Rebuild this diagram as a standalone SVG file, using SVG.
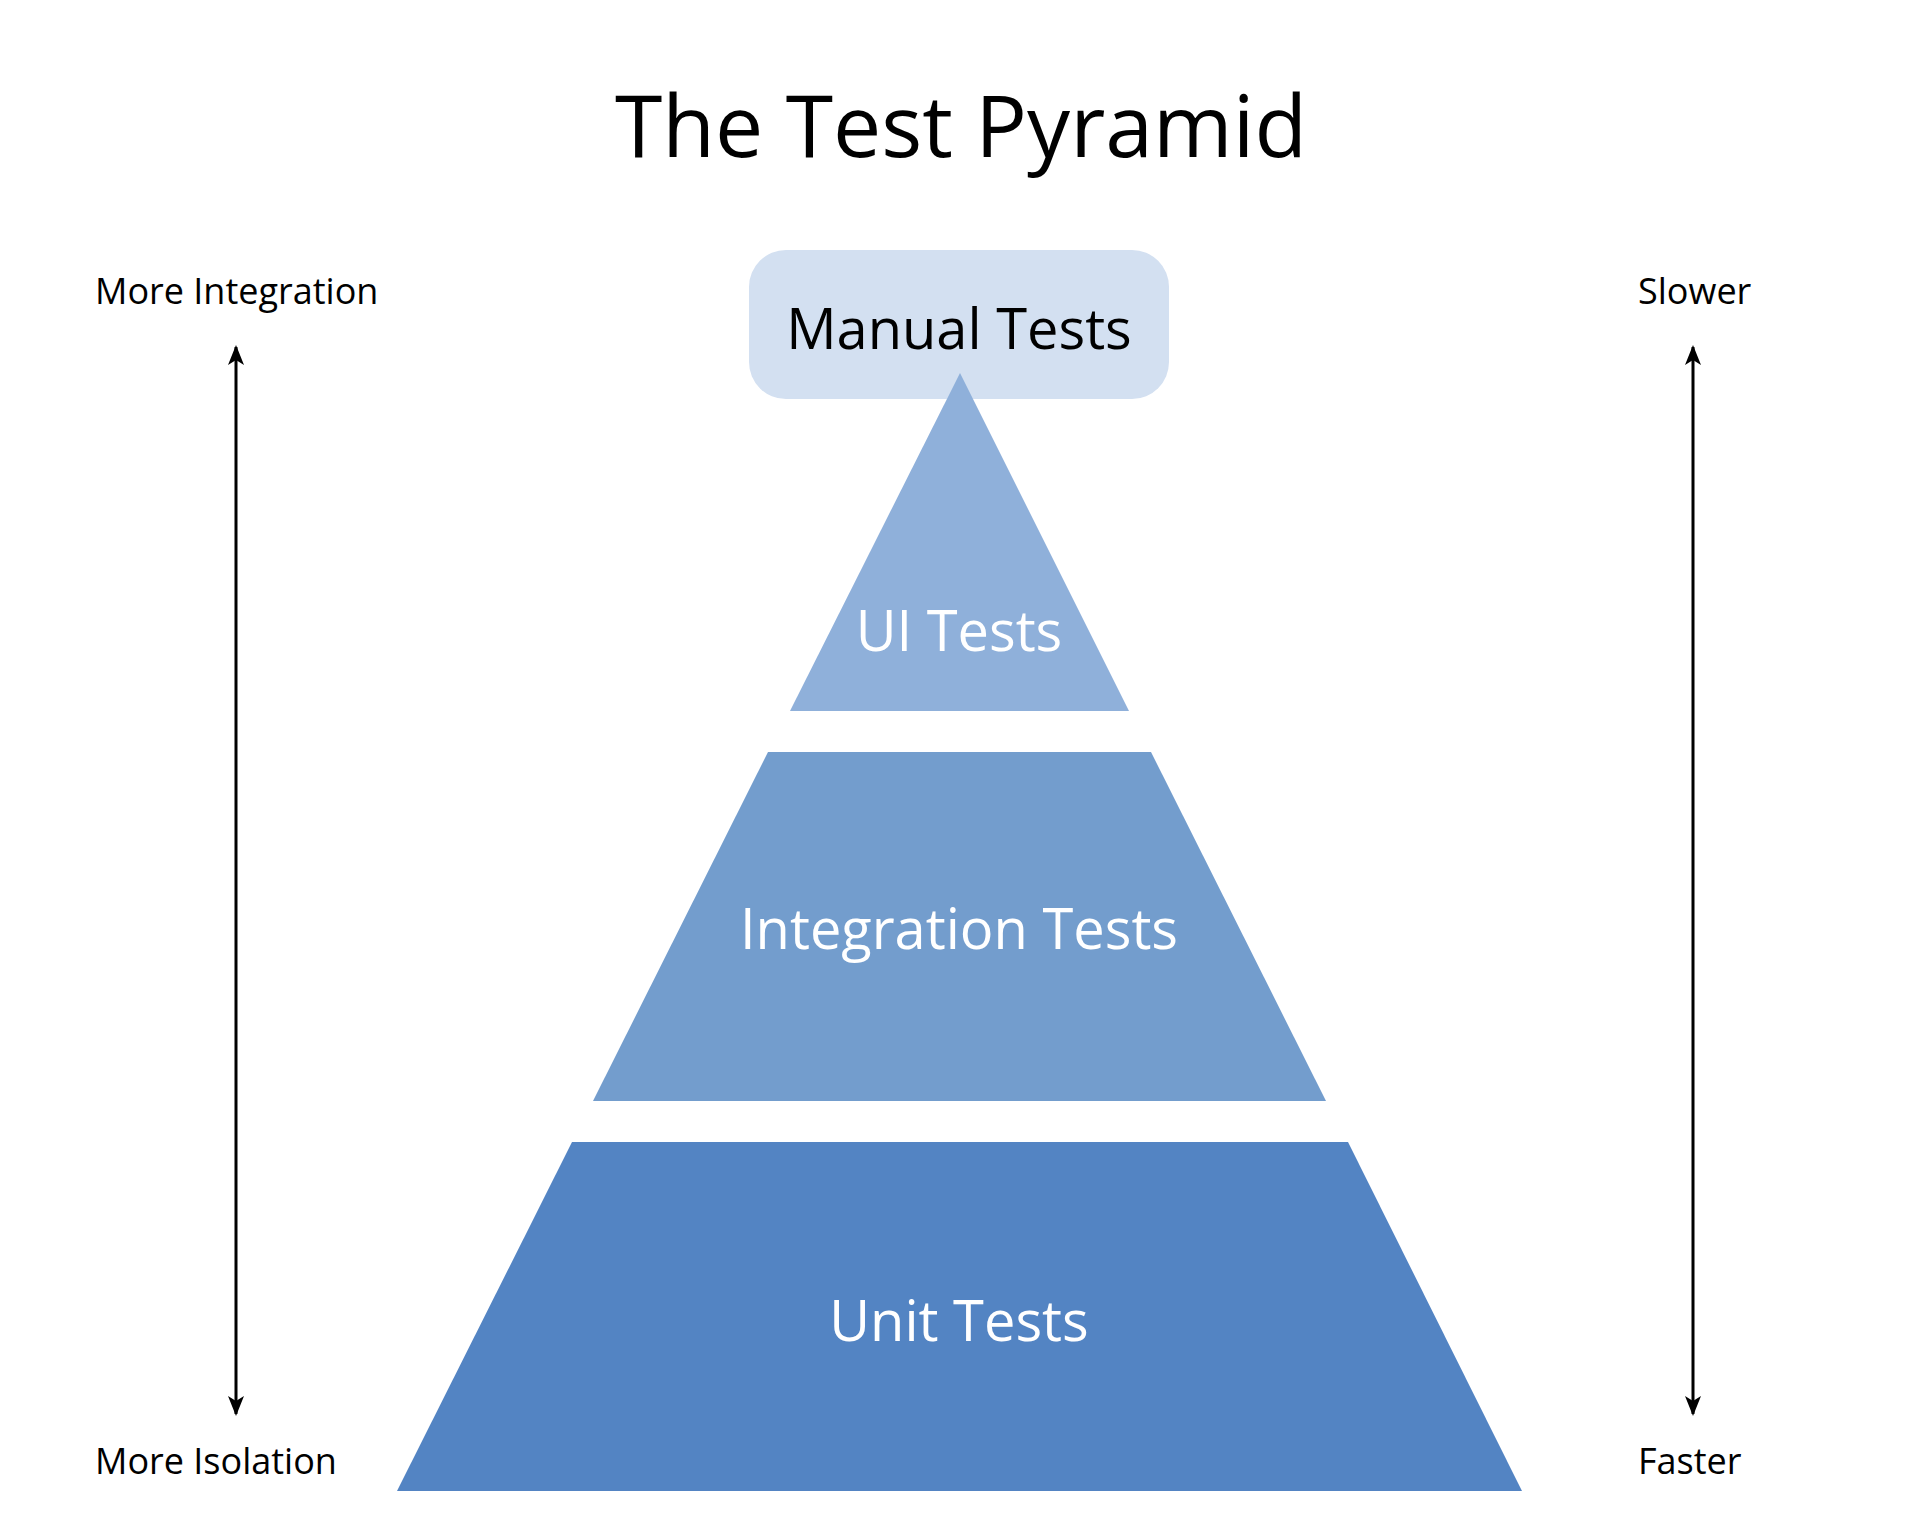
<svg xmlns="http://www.w3.org/2000/svg" width="1920" height="1536" viewBox="0 0 1920 1536">
<defs>
<marker id="ah" viewBox="0 0 20 20" refX="18" refY="10" markerWidth="20" markerHeight="20" markerUnits="userSpaceOnUse" orient="auto-start-reverse"><path d="M0,2 L20,10 L0,18 L5,10 Z" fill="#000"/></marker>
<style>
text{font-family:"Open Sans","Noto Sans",sans-serif;}
.lbl{font-size:36px;fill:#000;}
.w{font-size:56px;fill:#fff;text-anchor:middle;}
</style>
</defs>
<rect width="1920" height="1536" fill="#fff"/>
<text x="961" y="157" font-size="86" text-anchor="middle" fill="#000">The Test Pyramid</text>
<g id="unit"><polygon points="572,1142 1348,1142 1522,1491 397,1491" fill="#5384c3"/><text class="w" x="959" y="1341">Unit Tests</text></g>
<g id="integration"><polygon points="768,752 1151,752 1326,1101 593,1101" fill="#739dcd"/><text class="w" x="959" y="949">Integration Tests</text></g>
<g id="ui"><polygon points="960,373 1129,711 790,711" fill="#8fb0da"/><text class="w" x="959" y="651">UI Tests</text></g>
<g id="manual"><rect x="749" y="250" width="420" height="149" rx="37" fill="#d3e0f1"/><polygon points="960,373 973,399 947,399" fill="#8fb0da"/><text x="959" y="349" font-size="56" text-anchor="middle" fill="#000">Manual Tests</text></g>
<g id="connectors" stroke="#000" stroke-width="3" fill="none">
<line x1="236" y1="347" x2="236" y2="1414" marker-start="url(#ah)" marker-end="url(#ah)"/>
<line x1="1693" y1="347" x2="1693" y2="1414" marker-start="url(#ah)" marker-end="url(#ah)"/>
</g>
<g id="labels">
<text class="lbl" x="95" y="304">More Integration</text>
<text class="lbl" x="95" y="1474">More Isolation</text>
<text class="lbl" x="1638" y="304">Slower</text>
<text class="lbl" x="1638" y="1474">Faster</text>
</g>
</svg>
